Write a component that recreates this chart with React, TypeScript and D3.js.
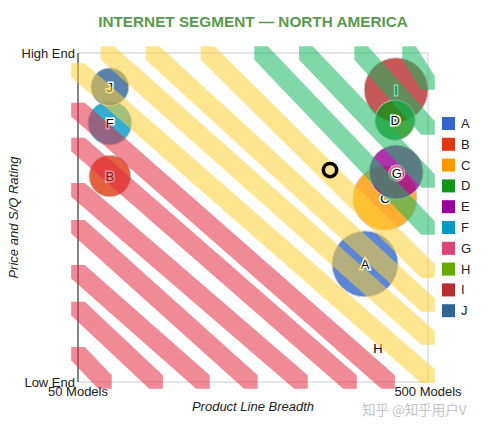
import React, { useEffect, useRef } from 'react';
import * as d3 from 'd3';

// bubbles, one per segment player (x = line breadth, y = price / quality, size)
const categories = ['A', 'B', 'C', 'D', 'E', 'F', 'G', 'H', 'I', 'J'];
const xValues = [82, 9.1, 87.7, 90.6, 90.9, 9.1, 91.1, 85.7, 90.9, 9.1];
const yValues = [35.9, 62.6, 55.9, 79.6, 63.8, 78.7, 63.5, 10.3, 88.8, 89.7];
const sizes = [100, 40, 94, 37, 67, 44, 6, 0, 94, 33];

// diagonal background bands. start: along left edge (0..100) then top edge (100..200);
// end: along bottom edge (0..100) then right edge (100..200)
const redStarts = [8.6, 22.3, 33.5, 47.2, 58.4, 72.2, 82.8];
const redEnds = [7.7, 22.3, 35.7, 49.4, 63.7, 77.7, 88.6];
const yellowStarts = [94.8, 108.4, 121.3, 137];
const yellowEnds = [101.8, 113.4, 123.4, 133.7];
const greenStarts = [152.3, 165.1, 180.9, 194.6];
const greenEnds = [146.8, 161.1, 177.2, 190.9];

// the black ring marker
const markerX = 72;
const markerY = 64.4;

const xTickLabels = ['50 Models', '500 Models'];
const yTickLabels = ['Low End', 'High End'];

const palette = ['#3366cc', '#dc3912', '#ff9900', '#109618', '#990099', '#0099c6', '#dd4477', '#66aa00', '#b82e2e', '#316395'];
const FONT = 'Arial, "Liberation Sans", sans-serif';

const App: React.FC = () => {
    const svgRef = useRef<SVGSVGElement>(null);

    useEffect(() => {
        if (!svgRef.current) return;
        const svg = d3.select(svgRef.current);
        svg.selectAll('*').remove();

        const left = 78, right = 428, top = 53, bottom = 382;

        const x = d3.scaleLinear().domain([0, 100]).range([left, right]);
        const y = d3.scaleLinear().domain([0, 100]).range([bottom, top]);
        const r = d3.scaleSqrt().domain([0, 100]).range([0, 33]);

        svg.append('rect').attr('width', 489).attr('height', 430).attr('fill', '#fff');

        // title
        svg.append('text')
            .attr('x', 253).attr('y', 27)
            .attr('text-anchor', 'middle')
            .attr('font-family', FONT).attr('font-size', 15.3).attr('font-weight', 'bold')
            .attr('fill', '#5a9a4e')
            .text('INTERNET SEGMENT \u2014 NORTH AMERICA');

        // frame
        svg.append('path')
            .attr('d', `M${left},${top}H${right}V${bottom}H${left}`)
            .attr('fill', 'none').attr('stroke', '#ccc').attr('stroke-width', 1);
        svg.append('line')
            .attr('x1', left).attr('x2', left).attr('y1', top).attr('y2', bottom)
            .attr('stroke', '#333').attr('stroke-width', 1.2);

        // bubbles, larger first
        const bubbles = categories.map((c, i) => ({
            name: c, x: xValues[i], y: yValues[i], size: sizes[i], color: palette[i]
        })).sort((a, b) => b.size - a.size);

        const bg = svg.append('g');
        bubbles.forEach(b => {
            if (b.size > 0) {
                bg.append('circle')
                    .attr('cx', x(b.x)).attr('cy', y(b.y)).attr('r', r(b.size))
                    .attr('fill', b.color).attr('fill-opacity', 0.8)
                    .attr('stroke', '#ccc').attr('stroke-width', 1);
            }
            bg.append('text')
                .attr('x', x(b.x)).attr('y', y(b.y) + 5)
                .attr('text-anchor', 'middle')
                .attr('font-family', FONT).attr('font-size', 13)
                .attr('fill', '#000')
                .attr('stroke', '#fff').attr('stroke-width', 3).attr('paint-order', 'stroke')
                .text(b.name);
        });

        // diagonal bands over the bubbles: segment swept by a square pen
        const startPoint = (p: number) => (p <= 100 ? [0, p] : [p - 100, 100]);
        const endPoint = (q: number) => (q <= 100 ? [q, 0] : [100, q - 100]);
        const h = 6.8;

        const bandPath = (s: number, t: number) => {
            const p0 = startPoint(s);
            const p1 = endPoint(t);
            const ax = x(p0[0]), ay = y(p0[1]);
            const bx = x(p1[0]), by = y(p1[1]);
            const pts: [number, number][] = [
                [ax - h, ay - h], [ax + h, ay - h], [bx + h, by - h],
                [bx + h, by + h], [bx - h, by + h], [ax - h, ay + h]
            ];
            return d3.line()(pts) + 'Z';
        };

        const bandGroup = svg.append('g');
        const drawBands = (starts: number[], ends: number[], color: string) => {
            bandGroup.selectAll(null)
                .data(starts.map((s, i) => bandPath(s, ends[i])))
                .enter()
                .append('path')
                .attr('d', d => d)
                .attr('fill', color).attr('fill-opacity', 0.55);
        };
        drawBands(redStarts, redEnds, '#e42a42');
        drawBands(yellowStarts, yellowEnds, '#ffd035');
        drawBands(greenStarts, greenEnds, '#18b861');

        // marker
        svg.append('circle')
            .attr('cx', x(markerX)).attr('cy', y(markerY)).attr('r', 6.7)
            .attr('fill', 'none').attr('stroke', '#000').attr('stroke-width', 3.5);

        // axis labels
        const tickText = (tx: number, ty: number, anchor: string, s: string) =>
            svg.append('text')
                .attr('x', tx).attr('y', ty).attr('text-anchor', anchor)
                .attr('font-family', FONT).attr('font-size', 13).attr('fill', '#222')
                .text(s);
        tickText(left - 3, y(0) + 5, 'end', yTickLabels[0]);
        tickText(left - 3, y(100) + 5, 'end', yTickLabels[1]);
        tickText(x(0), bottom + 14, 'middle', xTickLabels[0]);
        tickText(x(100), bottom + 14, 'middle', xTickLabels[1]);

        svg.append('text')
            .attr('x', (left + right) / 2).attr('y', 411)
            .attr('text-anchor', 'middle')
            .attr('font-family', FONT).attr('font-size', 13).attr('font-style', 'italic').attr('fill', '#222')
            .text('Product Line Breadth');

        svg.append('text')
            .attr('transform', `translate(18,${(top + bottom) / 2}) rotate(-90)`)
            .attr('text-anchor', 'middle')
            .attr('font-family', FONT).attr('font-size', 13).attr('font-style', 'italic').attr('fill', '#222')
            .text('Price and S/Q Rating');

        // legend
        const legend = svg.append('g');
        categories.forEach((c, i) => {
            const ly = 117 + i * 20.8;
            legend.append('rect')
                .attr('x', 442).attr('y', ly).attr('width', 13).attr('height', 13)
                .attr('fill', palette[i]);
            legend.append('text')
                .attr('x', 461).attr('y', ly + 11)
                .attr('font-family', FONT).attr('font-size', 13).attr('fill', '#222')
                .text(c);
        });

        // watermark
        svg.append('text')
            .attr('x', 362).attr('y', 415)
            .attr('font-family', '"Noto Sans CJK SC", sans-serif').attr('font-size', 13.5)
            .attr('fill', '#c4c4c4')
            .text('知乎 @知乎用户V');
    }, []);

    return (
        <svg ref={svgRef} width={489} height={430}
            style={{ position: 'absolute', left: 0, top: 0, display: 'block' }}></svg>
    );
};

export default App;
